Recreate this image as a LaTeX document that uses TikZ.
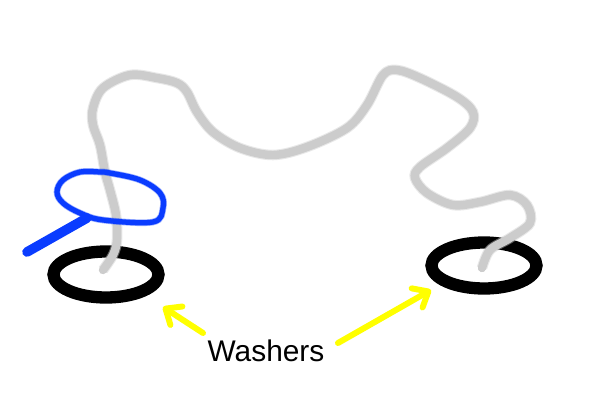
\documentclass[tikz,border=0pt]{standalone}
\usepackage{fontspec}
\setmainfont{Liberation Sans}
\usetikzlibrary{arrows.meta, positioning, calc, shapes.geometric}
\definecolor{wireGrey}{HTML}{CCCCCC}
\definecolor{clampBlue}{HTML}{0A3CFF}
\definecolor{arrowYellow}{HTML}{FFFF00}
\tikzset{
    washer/.style={ellipse, draw=black, line width=7pt, minimum width=2.1cm, minimum height=0.92cm, inner sep=0pt, outer sep=0pt},
    wire/.style={draw=wireGrey, line width=4.8pt, line cap=round, line join=round, preaction={draw=wireGrey, draw opacity=0.45, line width=6pt}},
    clamp/.style={draw=clampBlue, line width=3pt, line cap=round, line join=round, preaction={draw=clampBlue, draw opacity=0.4, line width=3.8pt}},
    pointer/.style={draw=arrowYellow, line width=3.4pt, line cap=round, -{Straight Barb[length=2.6mm, width=4.4mm, line width=3.4pt, round]}},
    label/.style={font=\fontsize{17}{20}\selectfont, inner sep=0pt, anchor=base}
}

\begin{document}
\begin{tikzpicture}[x=0.02cm, y=-0.02cm]
\useasboundingbox (0,0) rectangle (600,400);

% Washers
\node (washerLeft) [washer] at (106,274.5) {};
\node (washerRight) [washer] at (484,265.5) {};

% Wire from one washer to the other
\draw [wire] plot [smooth, tension=0.55] coordinates {
    (103,270) (113,255) (117,240) (116,215) (110,190) (105,172) (100,145) (93,125) (93,108)
    (103,88) (130,75) (157,78) (177,83) (187,92) (197,112) (213,132) (240,148) (273,155) (307,147)
    (347,128) (367,105) (383,75) (397,70) (420,78) (457,97) (473,112) (470,128) (447,148)
    (420,167) (415,178) (427,193) (453,205) (480,202) (510,195) (527,205) (530,223) (510,238)
    (490,250) (482,268)};

% Clamp loop and handle
\draw [clamp] plot [smooth cycle, tension=0.6] coordinates {
    (100,172) (80,172) (63,180) (57,192) (63,203) (80,213) (103,220) (153,222) (163,208)
    (160,193) (140,180) (110,173)};
\draw [clamp, line width=5.5pt] (27,252) -- (87,218);

% Label and arrows
\node (washersLabel) [label] at (266,361) {Washers};
\coordinate (tipLeft) at (163,307);
\coordinate (tipRight) at (431,290);
\coordinate (tailLeft) at (203,333);
\coordinate (tailRight) at (338,343);
\draw [pointer] (tailLeft) -- (tipLeft);
\draw [pointer] (tailRight) -- (tipRight);

\end{tikzpicture}
\end{document}
